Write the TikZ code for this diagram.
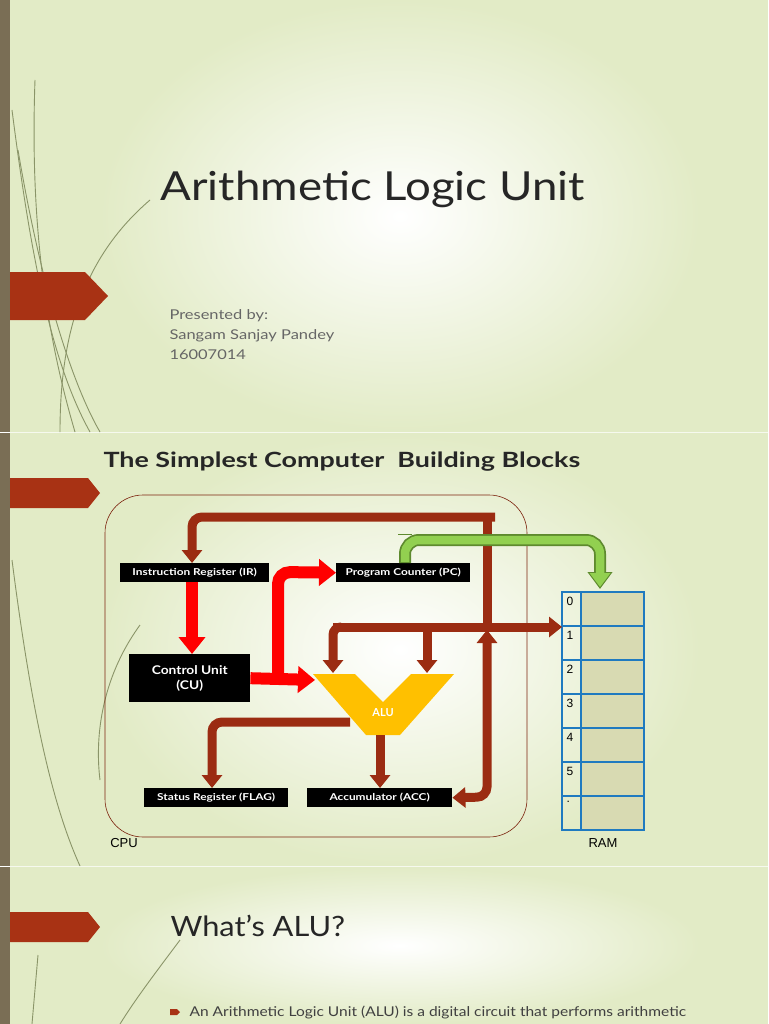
\documentclass[tikz,border=0pt]{standalone}
\usepackage{fontspec}
\setmainfont{Lato}
\newfontfamily\arialf{Liberation Sans}
\usetikzlibrary{arrows.meta}
\definecolor{bgg}{HTML}{E2EBC6}
\definecolor{strip}{HTML}{7A6E55}
\definecolor{tab}{HTML}{A83214}
\definecolor{brn}{HTML}{9B2C12}
\definecolor{grn}{HTML}{92D050}
\definecolor{grnd}{HTML}{5E8A2E}
\definecolor{alu}{HTML}{FFC000}
\definecolor{ramb}{HTML}{1F7AC0}
\definecolor{ramc}{HTML}{D8DAB2}
\definecolor{curv}{HTML}{8A9468}
\tikzset{
 blk/.style={fill=black,text=white,font=\bfseries\fontsize{9.5}{10}\selectfont\addfontfeature{FakeStretch=1.25},inner sep=0,anchor=north west},
 brw/.style={draw=brn,line width=9pt,rounded corners=10pt},
 brwa/.style={brw,-{Triangle[width=20pt,length=13pt]}},
 redw/.style={draw=red,line width=12pt,rounded corners=12pt,-{Triangle[width=26pt,length=17pt]}},
 crv/.style={draw=curv,line width=0.9pt},
}
\begin{document}
\begin{tikzpicture}[x=1pt,y=-1pt]
\useasboundingbox (0,0) rectangle (768,1024);
% backgrounds
\foreach \a/\b in {0/432,433/866,867/1024}{
 \fill[bgg] (0,\a) rectangle (768,\b);
 \shade[inner color=white,outer color=bgg] (100,\a) rectangle (700,\b);
}
\draw[white!70!bgg,line width=1pt] (0,432.5) -- (768,432.5) (0,866.5) -- (768,866.5);
\fill[strip] (0,0) rectangle (10,1024);
\draw[white,line width=0.8pt] (0,432.5) -- (10,432.5) (0,866.5) -- (10,866.5);
% decorative curves
\draw[crv] (12,110) .. controls (30,250) and (50,360) .. (90,432);
\draw[crv] (35,80) .. controls (30,220) and (45,330) .. (75,432);
\draw[crv] (150,200) .. controls (80,260) and (60,340) .. (60,432);
\draw[crv] (18,150) .. controls (40,280) and (70,380) .. (100,432);
\draw[crv] (12,560) .. controls (30,700) and (50,800) .. (80,866);
\draw[crv] (140,625) .. controls (100,680) and (95,740) .. (100,780);
\draw[crv] (38,955) -- (32,1024);
\draw[crv] (180,940) .. controls (150,980) and (135,1000) .. (120,1024);
% tabs
\fill[tab] (10,272) -- (85,272) -- (108,296) -- (85,320) -- (10,320) -- cycle;
\fill[tab] (10,478) -- (88,478) -- (100,493) -- (88,508) -- (10,508) -- cycle;
\fill[tab] (10,912) -- (88,912) -- (100,927) -- (88,942) -- (10,942) -- cycle;
% slide 1 text
\node[anchor=west,font=\fontsize{40}{44}\selectfont\addfontfeature{FakeStretch=1.14},text=black!85] (t1) at (157,189) {Arithmetic Logic Unit};
\node[anchor=west,font=\fontsize{13.5}{16}\selectfont\addfontfeature{FakeStretch=1.22},text=black!60,align=left] (s1) at (166,335) {Presented by:\\[4pt]Sangam Sanjay Pandey\\[4pt]16007014};
% slide 2
\node[anchor=west,font=\bfseries\fontsize{21}{24}\selectfont\addfontfeature{FakeStretch=1.28},text=black!85] (t2) at (100,462) {The Simplest Computer\ \ Building Blocks};
\draw[brn!80!black,line width=0.6pt,rounded corners=38pt] (105,495) rectangle (527,837);
\node[font=\arialf\fontsize{13}{15}\selectfont] (cpu) at (124,843) {CPU};
\node[font=\arialf\fontsize{13}{15}\selectfont] (ram) at (603,843) {RAM};
% RAM
\foreach \i/\t in {0/0,1/1,2/2,3/3,4/4,5/5,6/.}{
 \pgfmathsetmacro\yy{592+34*\i}
 \fill[ramc] (581,\yy) rectangle (644,\yy+34);
 \node[font=\arialf\fontsize{12}{14}\selectfont,anchor=north west] (r\i) at (563,\yy+2) {\t};
}
\draw[ramb,line width=2pt] (562,592) rectangle (644,830) (581,592) -- (581,830);
\foreach \i in {1,...,6}{\draw[ramb,line width=2pt] (562,592+34*\i) -- (644,592+34*\i);}
\coordinate (ramtop) at (603,590);
\coordinate (ramleft) at (562,627);
% boxes
\node[blk,minimum width=149pt,minimum height=19pt] (ir) at (120,563) {Instruction Register (IR)};
\node[blk,minimum width=134pt,minimum height=19pt] (pc) at (336,563) {Program Counter (PC)};
\node[blk,minimum width=121pt,minimum height=48pt,align=center,font=\bfseries\fontsize{12}{15}\selectfont\addfontfeature{FakeStretch=1.15}] (cu) at (129,654) {Control Unit\\(CU)};
\node[blk,minimum width=144pt,minimum height=19pt] (flag) at (144,788) {Status Register (FLAG)};
\node[blk,minimum width=145pt,minimum height=19pt] (acc) at (307,788) {Accumulator (ACC)};
\fill[alu] (313,674) -- (355,674) -- (383,702) -- (411,674) -- (454,674) -- (400,735) -- (366,735) -- cycle;
\node[text=white,font=\bfseries\fontsize{11}{12}\selectfont] (alu) at (383,713) {ALU};
% brown connectors
\draw[brwa] (495,517) -- (192,517) -- (ir.north -| 192,0);
\draw[brw] (487,515) -- (487,625);
\draw[brwa] (333,627) -- (ramleft);
\draw[brwa,rounded corners=8pt] (340,627) -- (333,627) -- (333,673);
\draw[brwa] (427,627) -- (427,673);
\draw[brwa] (350,722) -- (212,722) -- (flag.north -| 212,0);
\draw[brwa] (380,735) -- (acc.north -| 380,0);
\draw[brw,{Triangle[width=20pt,length=13pt]}-{Triangle[width=20pt,length=13pt]}] (487,630) -- (487,797) -- (acc.east);
% red
\draw[redw] (ir.south -| 192,0) -- (cu.north -| 192,0);
\draw[redw] (cu.east) -- (315,680);
\draw[redw] (278,681) -- (278,572) -- (pc.west);
% green
\draw[grnd,line width=12pt,rounded corners=14pt,-{Triangle[width=24pt,length=17pt]}] (405,563) -- (405,540) -- (600,540) -- (600,589);
\draw[grn,line width=8.5pt,rounded corners=14pt,-{Triangle[width=20pt,length=14pt]}] (405,562) -- (405,540) -- (600,540) -- (600,587);
\draw[grnd,line width=1pt] (398,534) -- (412,534);
% slide 3
\node[anchor=west,font=\fontsize{28}{32}\selectfont\addfontfeature{FakeStretch=1.1},text=black!85] (t3) at (167,926) {What’s ALU?};
\fill[tab] (170,1009) -- (177,1009) -- (180,1012) -- (177,1015) -- (170,1015) -- cycle;
\node[anchor=west,font=\fontsize{13.5}{16}\selectfont\addfontfeature{FakeStretch=1.15},text=black!75] (b1) at (186,1012) {An Arithmetic Logic Unit (ALU) is a digital circuit that performs arithmetic};
\end{tikzpicture}
\end{document}
